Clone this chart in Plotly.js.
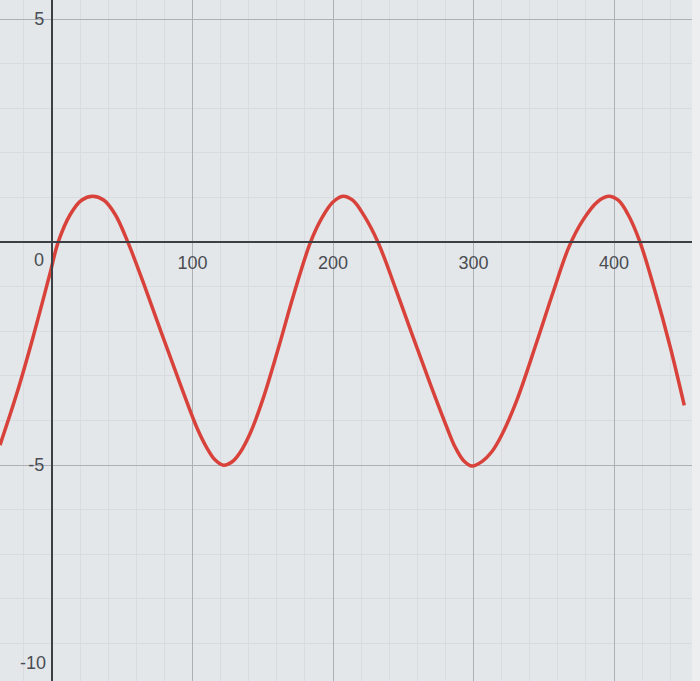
<!DOCTYPE html>
<html>
<head>
<meta charset="utf-8">
<script src="https://cdn.plot.ly/plotly-3.0.1.min.js"></script>
<style>
  html, body { margin: 0; padding: 0; background: #e3e7ea; }
  #chart { width: 700px; height: 681px; }
</style>
</head>
<body>
<div id="chart"></div>
<script>
// points, left to right
const curveX = [
  -37, -25, -13.5, -1.4, 4.4, 13, 21, 29,
  37, 45, 54, 67, 79, 91, 103, 110, 116, 122,
  128, 134, 141, 150, 161, 172, 184, 192, 200, 207,
  214, 222, 232, 245, 257, 269, 281, 287, 293, 299,
  306, 313, 320, 331, 345, 357, 368, 378, 388, 396,
  403, 410, 418.5, 429, 440, 450,
];
const curveY = [
  -4.55, -3.39, -2.13, -0.7, 0, 0.62, 0.94, 1.03,
  0.94, 0.62, 0, -1.08, -2.13, -3.16, -4.15, -4.6, -4.88, -5.0,
  -4.93, -4.71, -4.29, -3.53, -2.39, -1.18, 0, 0.54, 0.9, 1.03,
  0.94, 0.6, 0, -1.08, -2.13, -3.16, -4.15, -4.6, -4.9, -5.02,
  -4.92, -4.7, -4.33, -3.53, -2.24, -1.09, -0.1, 0.5, 0.9, 1.03,
  0.94, 0.62, 0, -1.08, -2.35, -3.66,
];

const xTicks = [100, 200, 300, 400];
const yTicks = [-5, 5];

const xRange = [-37, 455.5];
const yRange = [-9.84, 5.43];

// where each axis crosses the other, as a fraction of the plot area
const xAxisPos = (0 - yRange[0]) / (yRange[1] - yRange[0]);
const yAxisPos = (0 - xRange[0]) / (xRange[1] - xRange[0]);

const labelFont = { family: "Arial, Liberation Sans, sans-serif", size: 18, color: "#4a4d52" };

const trace = {
  x: curveX,
  y: curveY,
  type: "scatter",
  mode: "lines",
  line: { color: "#d8423a", width: 3.5, shape: "spline", smoothing: 1 },
  hoverinfo: "skip",
};

const layout = {
  width: 700,
  height: 681,
  margin: { l: 0, r: 0, t: 0, b: 0 },
  paper_bgcolor: "#eceef0",
  plot_bgcolor: "#e3e7ea",
  showlegend: false,
  xaxis: {
    domain: [0, 692 / 700],
    range: xRange,
    tickvals: xTicks,
    ticktext: xTicks.map(String),
    tickfont: labelFont,
    anchor: "free",
    position: xAxisPos,
    showline: true,
    linecolor: "#3c3f44",
    linewidth: 2,
    ticks: "",
    ticklabelstandoff: 4,
    showgrid: true,
    gridcolor: "#adb1b6",
    gridwidth: 1,
    zeroline: false,
    minor: { dtick: 20, tick0: 0, showgrid: true, gridcolor: "#d8dce0", gridwidth: 1 },
  },
  yaxis: {
    range: yRange,
    tickvals: yTicks,
    ticktext: yTicks.map(String),
    tickfont: labelFont,
    anchor: "free",
    position: yAxisPos * (692 / 700),
    showline: true,
    linecolor: "#3c3f44",
    linewidth: 2,
    ticks: "",
    ticklabelstandoff: 3,
    showgrid: true,
    gridcolor: "#adb1b6",
    gridwidth: 1,
    zeroline: false,
    minor: { dtick: 1, tick0: 0, showgrid: true, gridcolor: "#d8dce0", gridwidth: 1 },
  },
  annotations: [
    {
      x: 0, y: 0, xref: "x", yref: "y",
      text: "0", showarrow: false,
      xanchor: "right", yanchor: "top",
      xshift: -6, yshift: -6,
      font: labelFont,
    },
    {
      // -10 sits just below the visible range, pinned to the bottom edge as in the photo
      x: 0, y: 0, xref: "x", yref: "paper",
      text: "-10", showarrow: false,
      xanchor: "right", yanchor: "bottom",
      xshift: -4, yshift: 6,
      font: labelFont,
    },
  ],
};

Plotly.newPlot("chart", [trace], layout, { displayModeBar: false, staticPlot: true });
</script>
</body>
</html>
